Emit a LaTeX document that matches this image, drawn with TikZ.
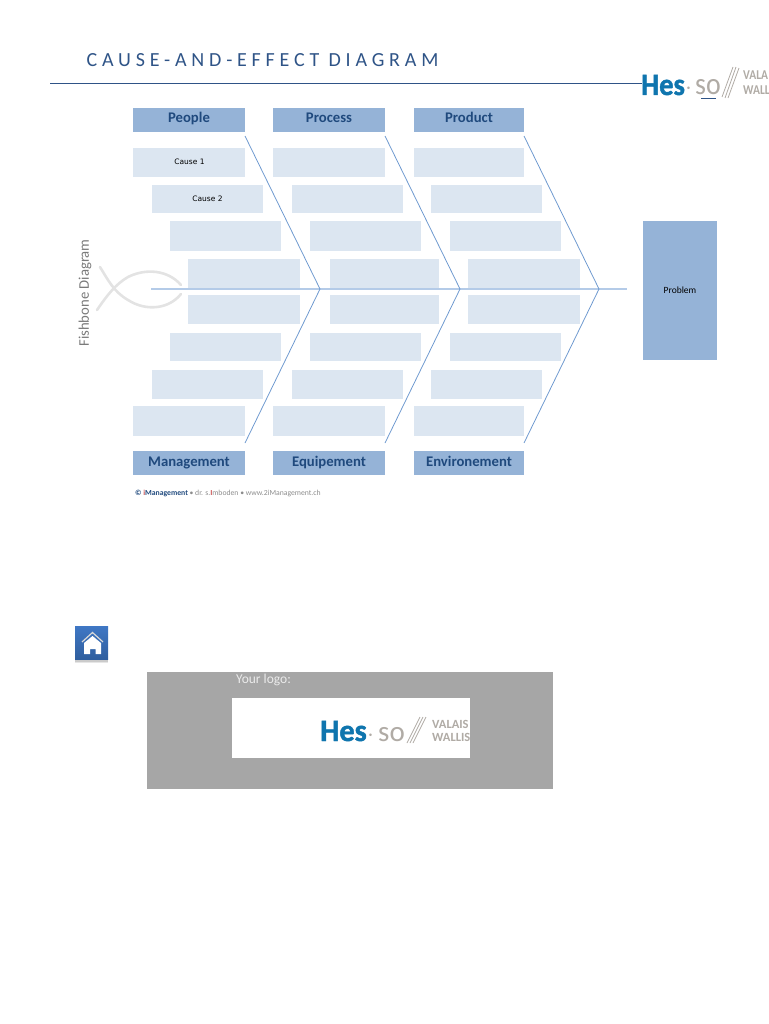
\documentclass[tikz,border=0pt]{standalone}
\usepackage{fontspec}
\setmainfont{Carlito}
\newfontfamily\causefont{DejaVu Sans}
\usetikzlibrary{positioning, shadows}
\definecolor{titleblue}{HTML}{2F5487}
\definecolor{headfill}{HTML}{95B3D7}
\definecolor{headtext}{HTML}{1F497D}
\definecolor{causefill}{HTML}{DCE6F1}
\definecolor{boneblue}{HTML}{6F9AD0}
\definecolor{spineblue}{HTML}{B4CBE8}
\definecolor{hesblue}{HTML}{0F75AE}
\definecolor{hesgrey}{HTML}{B0ABA5}
\definecolor{hometop}{HTML}{3F77C4}
\definecolor{homelow}{HTML}{2F5E9E}
\tikzset{
  headbox/.style={fill=headfill,text=headtext,minimum width=112pt,minimum height=24pt,inner sep=0pt,text height=10pt,text depth=4pt,font=\fontsize{14.7}{15}\selectfont\bfseries},
  causebox/.style={fill=causefill,text=black,inner sep=0pt,font=\causefont\fontsize{7.5}{8}\selectfont},
  bone/.style={draw=boneblue,line width=0.8pt},
  fishline/.style={draw=black!11,line width=2.6pt,line cap=round},
  hesmark/.style={inner sep=0pt,anchor=base west}
}
\begin{document}
\begin{tikzpicture}[x=1pt,y=-1pt]
      \useasboundingbox (0,0) rectangle (768,1024);
      % title and rule
      \node[anchor=base west,inner sep=0pt,text=titleblue] (title) at (86.5,66.5)
        {\fontsize{20}{22}\selectfont\addfontfeatures{LetterSpace=24}CAUSE-AND-EFFECT DIAGRAM};
      \coordinate (ruleA) at (50,83);
      \coordinate (ruleB) at (642,83);
      \draw[titleblue,line width=0.8pt] (ruleA) -- (ruleB);
      % top logo
      \node[hesmark,text=hesblue] (hesA) at (641,95) {\fontsize{31}{31}\selectfont\addfontfeatures{FakeBold=1.5}\bfseries\scalebox{0.92}[1]{Hes}};
      \node[hesmark,text=hesgrey] (soA) at (685,95) {\fontsize{31}{31}\selectfont$\cdot$};
      \node[hesmark,text=hesgrey] (soB) at (695,95) {\fontsize{31}{31}\selectfont\scalebox{0.9}[1]{so}};
      \draw[titleblue,line width=1pt] (701,99) -- (716,99);
      \draw[hesgrey,line width=0.8pt] (722,97) -- (733,67) (725,98) -- (736,67) (728,98) -- (739,68);
      \node[hesmark,text=hesgrey] (valA) at (743,80) {\fontsize{13.5}{14}\selectfont\bfseries\scalebox{0.85}[1]{VALA}};
      \node[hesmark,text=hesgrey] (walA) at (743,94.5) {\fontsize{13.5}{14}\selectfont\bfseries\scalebox{0.85}[1]{WALL}};
      % cause boxes, one row per line
      \foreach \rowy/\cy/\rowh/\xa/\wa/\xb/\wb/\xc/\wc in {
        1/162.5/29/189/112/329/112/469/110,
        2/199/28/207.5/111/347.5/111/486.5/111,
        3/236/30/225.5/111/365.5/111/505.5/111,
        4/273.5/29/244/112/384.5/109/524/111.5,
        5/309.5/29/244/112/384.5/109/524/111.5,
        6/347/28/225.5/111/365.5/111/505.5/111,
        7/384.5/29/207.5/111/347.5/111/486.5/111,
        8/421/30/189/112/329/112/469/110} {
        \node[causebox,minimum height=\rowh pt,minimum width=\wa pt] (c1\rowy) at (\xa,\cy) {};
        \node[causebox,minimum height=\rowh pt,minimum width=\wb pt] (c2\rowy) at (\xb,\cy) {};
        \node[causebox,minimum height=\rowh pt,minimum width=\wc pt] (c3\rowy) at (\xc,\cy) {};
      }
      \node[font=\causefont\fontsize{7.5}{8}\selectfont] (causeA) at (189.5,161.5) {Cause 1};
      \node[font=\causefont\fontsize{7.5}{8}\selectfont] (causeB) at (207.5,198.5) {Cause 2};
      % headers
      \node[headbox] (people) at (189,120) {People};
      \node[headbox] (process) at (329,120) {Process};
      \node[headbox,minimum width=110pt] (product) at (469,120) {Product};
      \node[headbox] (management) at (189,463) {Management};
      \node[headbox] (equipement) at (329,463) {Equipement};
      \node[headbox,minimum width=110pt] (environement) at (469,463) {Environement};
      % fish
      \draw[fishline] (100,267) .. controls (108,280) and (114,292) .. (128,300) .. controls (145,311) and (168,310) .. (181,294);
      \draw[fishline] (97,310) .. controls (108,294) and (116,284) .. (128,277) .. controls (146,268) and (168,270) .. (181,285);
      \node[rotate=90,text=black!52,font=\fontsize{14.7}{15}\selectfont] (fishlabel) at (85,293) {Fishbone Diagram};
      % spine and bones
      \coordinate (tail) at (151,289);
      \coordinate (head) at (627,289);
      \draw[spineblue,line width=1.2pt] (tail) -- (head);
      \foreach \name/\bx/\jx in {a/245/320,b/385/460,c/524/599} {
        \coordinate (\name top) at (\bx,136);
        \coordinate (\name joint) at (\jx,289);
        \coordinate (\name low) at (\bx,443);
        \draw[bone] (\name top) -- (\name joint) -- (\name low);
      }
      % problem
      \node[fill=headfill,minimum width=74pt,minimum height=139pt,inner sep=0pt,font=\fontsize{9.5}{10}\selectfont] (problem) at (680,290.5) {Problem};
      % footer
      \node[anchor=west,inner sep=0pt,text=black!45,font=\fontsize{7.7}{9}\selectfont] (credit) at (135,493)
        {\textcolor{headtext}{\textbf{©} \textcolor{red!70!black}{i}\textbf{Management}} • dr. s.\textcolor{red!70!black}{I}mboden • www.2iManagement.ch};
      % home button
      \node[fill=black!45,minimum size=33pt,inner sep=0pt,opacity=0.22] (homeshadowA) at (91.5,646.5) {};
      \node[fill=black!45,minimum size=33pt,inner sep=0pt,opacity=0.3] (homeshadowB) at (91.5,645) {};
      \node[top color=hometop,bottom color=homelow,minimum size=33pt,inner sep=0pt] (home) at (91.5,643) {};
      \fill[white] (84,643) -- (92.5,636) -- (101,643) -- (101,654) -- (95.5,654) -- (95.5,649) -- (90,649) -- (90,654) -- (84,654) -- cycle;
      \draw[white!85!black,line width=1.2pt] (82,642) -- (92.5,632.5) -- (103,642);
      % logo panel
      \node[fill=black!35,minimum width=406pt,minimum height=117pt,inner sep=0pt] (panel) at (350,730.5) {};
      \node[anchor=base west,inner sep=0pt,text=white!92!black,font=\fontsize{13.5}{14}\selectfont] (yourlogo) at (236,683) {Your logo:};
      \node[fill=white,minimum width=238pt,minimum height=60pt,inner sep=0pt] (logobox) at (351,728) {};
      \node[hesmark,text=hesblue] (hesB) at (320,741) {\fontsize{31}{31}\selectfont\addfontfeatures{FakeBold=1.5}\bfseries\scalebox{0.98}[1]{Hes}};
      \node[hesmark,text=hesgrey] (soC) at (367,741) {\fontsize{29}{29}\selectfont$\cdot$};
      \node[hesmark,text=hesgrey] (soD) at (378,741) {\fontsize{29}{29}\selectfont so};
      \draw[hesgrey,line width=0.8pt] (407,743) -- (420,717) (410,743) -- (423,717) (413,743) -- (426,717);
      \node[hesmark,text=hesgrey] (valB) at (432,728.5) {\fontsize{12.5}{13}\selectfont\bfseries VALAIS};
      \node[hesmark,text=hesgrey] (walB) at (432,741) {\fontsize{12.5}{13}\selectfont\bfseries WALLIS};
    \end{tikzpicture}
\end{document}
